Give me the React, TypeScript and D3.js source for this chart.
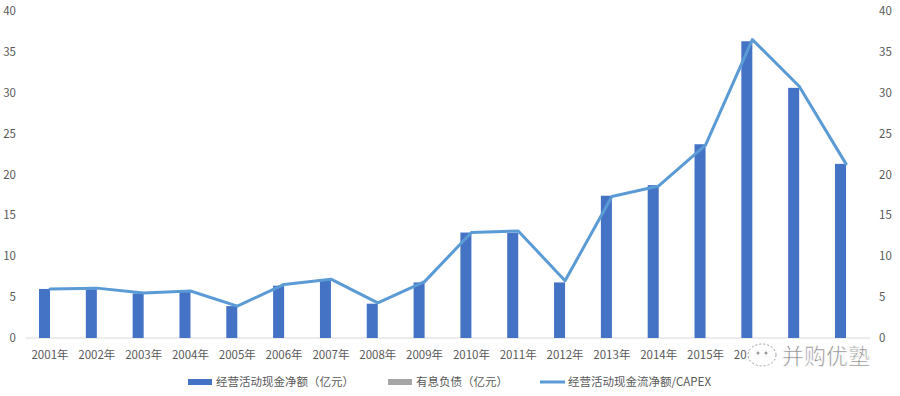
import React from "react";
import * as d3 from "d3";

const categories = ["2001年","2002年","2003年","2004年","2005年","2006年","2007年","2008年","2009年","2010年","2011年","2012年","2013年","2014年","2015年","2016年","2017年","2018年"];
const cashFlow = [6.0, 5.95, 5.45, 5.7, 3.9, 6.4, 7.2, 4.2, 6.8, 12.9, 12.85, 6.8, 17.4, 18.7, 23.7, 36.3, 30.6, 21.3];
const debt = [0, 0, 0, 0, 0, 0, 0, 0, 0, 0, 0, 0, 0, 0, 0, 0, 0, 0];
const ratio = [6.0, 6.1, 5.5, 5.75, 3.9, 6.55, 7.2, 4.3, 6.9, 12.9, 13.1, 7.0, 17.3, 18.6, 23.6, 36.5, 30.8, 21.3];
const yTicks = [0, 5, 10, 15, 20, 25, 30, 35, 40];
const legendLabels = ["经营活动现金净额（亿元）", "有息负债（亿元）", "经营活动现金流净额/CAPEX"];

const W = 900, H = 396;
const FONT = "'Noto Sans CJK SC', 'Noto Sans', sans-serif";

export default function App() {
  const x = d3.scaleBand<string>().domain(categories).range([26.6, 869.4]).paddingInner(0).paddingOuter(0);
  const y = d3.scaleLinear().domain([0, 40]).range([338, 11]);
  const yR = d3.scaleLinear().domain([0, 40]).range([338, 11]);
  const bw = x.bandwidth() * 0.235;
  const cx = (c: string) => (x(c) as number) + x.bandwidth() / 2;
  const line = d3.line<number>().x((_, i) => cx(categories[i])).y(d => yR(d));

  return (
    <svg width={W} height={H} style={{ position: "absolute", left: 0, top: 0, background: "#fff" }} fontFamily={FONT}>
      <rect width={W} height={H} fill="#fff" />
      {/* baseline */}
      <line x1={26} x2={870} y1={y(0)} y2={y(0)} stroke="#d9d9d9" strokeWidth={1} />
      {/* left axis */}
      {yTicks.map(t => (
        <text key={"l" + t} x={16} y={y(t)} dy="0.35em" textAnchor="end" fontSize={11.5} fill="#595959">{t}</text>
      ))}
      {yTicks.map(t => (
        <text key={"r" + t} x={879} y={yR(t)} dy="0.35em" textAnchor="start" fontSize={11.5} fill="#595959">{t}</text>
      ))}
      {/* bars */}
      {categories.map((c, i) => (
        <rect key={"b" + c} x={cx(c) - bw} y={y(cashFlow[i])} width={bw} height={y(0) - y(cashFlow[i])} fill="#4472c4" />
      ))}
      {categories.map((c, i) => debt[i] > 0 ? (
        <rect key={"d" + c} x={cx(c)} y={y(debt[i])} width={bw} height={y(0) - y(debt[i])} fill="#a5a5a5" />
      ) : null)}
      {/* line */}
      <path d={line(ratio) || ""} fill="none" stroke="#5b9bd5" strokeWidth={3} strokeLinejoin="round" strokeLinecap="round" />
      {/* x labels */}
      {categories.map(c => (
        <text key={"x" + c} x={cx(c)} y={355} dy="0.35em" textAnchor="middle" fontSize={11.5} fill="#595959">{c}</text>
      ))}
      {/* legend */}
      <g fontSize={11.5} fill="#595959">
        <rect x={188} y={379} width={24} height={6} fill="#4472c4" />
        <text x={216} y={382} dy="0.35em">{legendLabels[0]}</text>
        <rect x={388} y={379} width={24} height={6} fill="#a5a5a5" />
        <text x={416} y={382} dy="0.35em">{legendLabels[1]}</text>
        <line x1={540} x2={565} y1={382} y2={382} stroke="#5b9bd5" strokeWidth={3} />
        <text x={568} y={382} dy="0.35em">{legendLabels[2]}</text>
      </g>
      {/* watermark */}
      <g>
        <rect x={747} y={343} width={125} height={30} fill="#fff" opacity={0.95} />
        <ellipse cx={762} cy={355} rx={14} ry={11} fill="none" stroke="#999" strokeWidth={1} strokeDasharray="2 2" />
        <circle cx={758} cy={353} r={1.5} fill="#999" />
        <circle cx={766} cy={353} r={1.5} fill="#999" />
        <text x={826} y={356} dy="0.35em" textAnchor="middle" fontSize={22} fill="#8a8a8a" stroke="#fff" strokeWidth={0.6} fontFamily={FONT}>并购优塾</text>
      </g>
    </svg>
  );
}
